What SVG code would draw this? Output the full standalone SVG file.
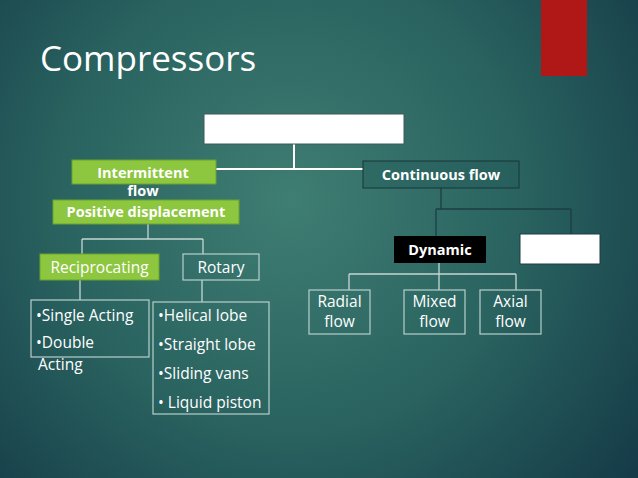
<svg xmlns="http://www.w3.org/2000/svg" width="638" height="478" viewBox="0 0 638 478">
<defs>
<radialGradient id="bg" cx="290" cy="200" r="470" gradientUnits="userSpaceOnUse">
<stop offset="0" stop-color="#3f7e73"/>
<stop offset="0.5" stop-color="#29625f"/>
<stop offset="1" stop-color="#123544"/>
</radialGradient>
<style>
.t{font-family:"Open Sans","Noto Sans",sans-serif;fill:#ffffff}
.b{font-weight:bold;font-size:14.5px}
.n{font-size:15.5px}
.g{fill:#8dc63f;stroke:#6aa32a;stroke-width:1}
.o{fill:none;stroke:#b7cfcc;stroke-width:1.2}
.c{fill:none;stroke:#c5d6d4;stroke-width:1.3}
</style>
</defs>
<rect width="638" height="478" fill="url(#bg)"/>
<rect x="541" y="0" width="46" height="76" fill="#b01818"/>
<text class="t" x="40" y="71" font-size="35" fill="#f0f4f4">Compressors</text>

<g id="connectors">
<path d="M294 144 V169 M216 169 H363" fill="none" stroke="#ffffff" stroke-width="2"/>
<path class="c" d="M148 224 V239 M82 239 H203 M82 239 V254 M203 239 V254"/>
<path class="c" d="M80 280 V300 M202 280 V302"/>
<path d="M441 188 V209 M436 209 H571 M436 209 V236 M571 209 V234" fill="none" stroke="#1c3e44" stroke-width="1.3"/>
<path class="c" d="M439 263 V274 M349 274 H516 M349 274 V290 M439 274 V290 M516 274 V290"/>
</g>

<g id="top"><rect x="204" y="114" width="200" height="30" fill="#ffffff" stroke="#3a5a5a" stroke-width="1"/></g>

<g id="intermittent">
<rect class="g" x="72" y="160" width="144" height="24"/>
<text class="t b" x="143" y="178" text-anchor="middle">Intermittent</text>
<text class="t b" x="143" y="196" text-anchor="middle">flow</text>
</g>
<g id="positive">
<rect class="g" x="53" y="200" width="186" height="24"/>
<text class="t b" x="146" y="217" text-anchor="middle">Positive displacement</text>
</g>
<g id="reciprocating">
<rect class="g" x="40" y="254" width="119" height="26"/>
<text class="t n" x="99.5" y="273" text-anchor="middle">Reciprocating</text>
</g>
<g id="rotary">
<rect class="o" x="183" y="254" width="76" height="26"/>
<text class="t n" x="221" y="273" text-anchor="middle">Rotary</text>
</g>
<g id="recip-list">
<rect class="o" x="31" y="300" width="118" height="57"/>
<text class="t n" x="36" y="321">•Single Acting</text>
<text class="t n" x="36" y="348">•Double</text>
<text class="t n" x="38" y="370">Acting</text>
</g>
<g id="rotary-list">
<rect class="o" x="153" y="302" width="116" height="112"/>
<text class="t n" x="158" y="321">•Helical lobe</text>
<text class="t n" x="158" y="350">•Straight lobe</text>
<text class="t n" x="158" y="379">•Sliding vans</text>
<text class="t n" x="158" y="408">• Liquid piston</text>
</g>
<g id="continuous">
<rect x="363" y="161" width="156" height="27" fill="#225a5a" fill-opacity="0.4" stroke="#173638" stroke-width="1"/>
<text class="t b" x="441" y="180" text-anchor="middle">Continuous flow</text>
</g>
<g id="dynamic">
<rect x="394" y="236" width="92" height="27" fill="#000000"/>
<text class="t b" x="440" y="255" text-anchor="middle">Dynamic</text>
</g>
<g id="blank"><rect x="520" y="234" width="80" height="30" fill="#ffffff" stroke="#1c3e44" stroke-width="1"/></g>
<g id="radial">
<rect class="o" x="309" y="290" width="61" height="44"/>
<text class="t n" x="339.5" y="307" text-anchor="middle">Radial</text>
<text class="t n" x="339.5" y="327" text-anchor="middle">flow</text>
</g>
<g id="mixed">
<rect class="o" x="404" y="290" width="61" height="44"/>
<text class="t n" x="434.5" y="307" text-anchor="middle">Mixed</text>
<text class="t n" x="434.5" y="327" text-anchor="middle">flow</text>
</g>
<g id="axial">
<rect class="o" x="480" y="290" width="61" height="44"/>
<text class="t n" x="510.5" y="307" text-anchor="middle">Axial</text>
<text class="t n" x="510.5" y="327" text-anchor="middle">flow</text>
</g>
</svg>
